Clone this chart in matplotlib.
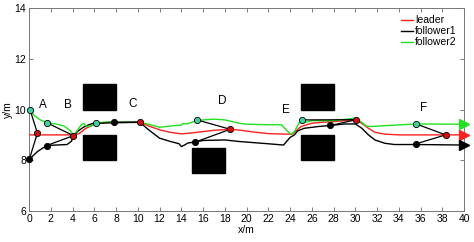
import matplotlib
matplotlib.use('Agg')
import matplotlib.pyplot as plt
from matplotlib.patches import Rectangle

plt.rcParams['font.family'] = ['Liberation Sans', 'DejaVu Sans']

# trajectories
leader_x = [0, 0.8, 2, 3.5, 4.1, 4.6, 5.2, 6, 7, 8, 9, 10.2, 11, 12, 13, 14, 15, 16, 17,
            18.5, 19.5, 20.5, 22, 23.5, 24.2, 25, 26, 27, 28, 29, 30, 30.6, 31.2, 31.8,
            32.7, 34, 36, 38.3, 40]
leader_y = [9.0, 9.0, 9.0, 9.0, 9.0, 9.05, 9.25, 9.42, 9.48, 9.5, 9.5, 9.5, 9.35, 9.2, 9.1,
            9.04, 9.08, 9.13, 9.18, 9.22, 9.18, 9.12, 9.05, 9.03, 9.03, 9.33, 9.46, 9.5,
            9.52, 9.56, 9.6, 9.45, 9.26, 9.1, 9.03, 9.0, 9.0, 9.0, 9.0]

f1_x = [0.03, 0.8, 1.63, 2.5, 3.5, 3.9, 4.1, 4.5, 5, 5.5, 6, 7.77, 10.17, 11, 12, 13, 13.8,
        14.0, 14.3, 14.6, 15.3, 16, 18, 19.3, 22, 23.4, 23.6, 24.0, 24.4, 24.7, 25.3, 26.6,
        27.7, 29, 30, 30.6, 31.2, 31.8, 32.7, 33.6, 35.6, 40]
f1_y = [8.04, 8.35, 8.58, 8.6, 8.62, 8.75, 8.97, 9.15, 9.3, 9.4, 9.47, 9.5, 9.5, 9.2, 8.87,
        8.74, 8.65, 8.54, 8.6, 8.68, 8.72, 8.78, 8.8, 8.74, 8.65, 8.6, 8.7, 8.9, 9.0, 9.16,
        9.26, 9.33, 9.37, 9.43, 9.43, 9.26, 9.0, 8.8, 8.67, 8.62, 8.62, 8.6]

f2_x = [0.09, 0.5, 1.0, 1.63, 2.5, 3.2, 3.7, 4.1, 4.4, 4.8, 5.0, 5.3, 5.7, 6.15, 7, 10.17,
        11, 12, 13, 14, 14.2, 14.5, 15, 15.45, 16, 17, 18, 19.3, 20, 22, 23.2, 23.5, 24.0,
        24.1, 24.4, 24.8, 25.1, 25.5, 26, 28, 30, 30.5, 31, 31.5, 33, 35.6, 40]
f2_y = [10.0, 9.75, 9.6, 9.48, 9.43, 9.35, 9.2, 9.0, 9.15, 9.4, 9.45, 9.33, 9.35, 9.46, 9.5,
        9.5, 9.42, 9.3, 9.35, 9.39, 9.45, 9.43, 9.5, 9.59, 9.59, 9.62, 9.59, 9.46, 9.42, 9.4,
        9.4, 9.26, 9.04, 9.03, 9.13, 9.46, 9.59, 9.5, 9.56, 9.56, 9.66, 9.52, 9.35, 9.33,
        9.37, 9.43, 9.42]

# formation snapshots A-F
snap_leader_x = [0.77, 4.08, 10.17, 18.5, 30.1, 38.3]
snap_leader_y = [9.07, 8.97, 9.5, 9.22, 9.6, 9.0]
snap_f1_x = [0.03, 1.63, 7.77, 15.3, 27.7, 35.6]
snap_f1_y = [8.04, 8.58, 9.5, 8.72, 9.37, 8.65]
snap_f2_x = [0.09, 1.63, 6.15, 15.45, 25.1, 35.6]
snap_f2_y = [10.0, 9.48, 9.46, 9.59, 9.59, 9.43]

snap_labels = ['A', 'B', 'C', 'D', 'E', 'F']
label_x = [1.26, 3.6, 9.5, 17.75, 23.6, 36.25]
label_y = [10.17, 10.17, 10.2, 10.34, 9.98, 10.07]

# obstacles (x0, y0, w, h)
obstacles = [(5, 10, 3, 1), (5, 8, 3, 1), (15, 7.5, 3, 1), (25, 10, 3, 1), (25, 8, 3, 1)]

fig = plt.figure(figsize=(4.74, 2.42), dpi=100)
ax = fig.add_axes([0.0612, 0.128, 0.918, 0.839])

for (ox, oy, w, h) in obstacles:
    ax.add_patch(Rectangle((ox, oy), w, h, facecolor='black', edgecolor='black', zorder=2))

ax.plot(leader_x, leader_y, color='#ff2020', lw=1.0, label='leader', zorder=3)
ax.plot(f1_x, f1_y, color='black', lw=1.0, label='follower1', zorder=3)
ax.plot(f2_x, f2_y, color='#20e020', lw=1.0, label='follower2', zorder=3)

# arrows at the end
ax.plot(leader_x[-1], leader_y[-1], marker='>', color='#ff2020', ms=7, zorder=4, clip_on=False)
ax.plot(f1_x[-1], f1_y[-1], marker='>', color='black', ms=7, zorder=4, clip_on=False)
ax.plot(f2_x[-1], f2_y[-1], marker='>', color='#20e020', ms=7, zorder=4, clip_on=False)

for i in range(len(snap_labels)):
    ax.plot([snap_f2_x[i], snap_leader_x[i]], [snap_f2_y[i], snap_leader_y[i]],
            color='black', lw=0.9, zorder=4)
    ax.plot([snap_f1_x[i], snap_leader_x[i]], [snap_f1_y[i], snap_leader_y[i]],
            color='black', lw=0.9, zorder=4)
    ax.text(label_x[i], label_y[i], snap_labels[i], fontsize=8.5, ha='center', va='center')

ax.plot(snap_leader_x, snap_leader_y, 'o', ls='none', mfc='#d01010', mec='black',
        mew=0.6, ms=4.5, zorder=5, clip_on=False)
ax.plot(snap_f1_x, snap_f1_y, 'o', ls='none', mfc='black', mec='black',
        mew=0.6, ms=4.5, zorder=5, clip_on=False)
ax.plot(snap_f2_x, snap_f2_y, 'o', ls='none', mfc='#40d0a0', mec='black',
        mew=0.6, ms=4.5, zorder=5, clip_on=False)

ax.set_xlim(0, 40)
ax.set_ylim(6, 14)
ax.set_xticks(range(0, 41, 2))
ax.set_yticks([6, 8, 10, 12, 14])
ax.tick_params(direction='in', top=True, right=True, labelsize=7.5, length=3,
               width=0.6, color='#666666', pad=2)
for s in ax.spines.values():
    s.set_color('#777777')
    s.set_linewidth(0.7)
ax.set_xlabel('x/m', fontsize=7.5, labelpad=1)
ax.set_ylabel('y/m', fontsize=7.5, labelpad=1)

ax.legend(loc='upper right', frameon=False, fontsize=7.5, handlelength=1.2,
          handletextpad=0.2, labelspacing=0.1, borderaxespad=0.3)

fig.savefig('out.png', dpi=100)
